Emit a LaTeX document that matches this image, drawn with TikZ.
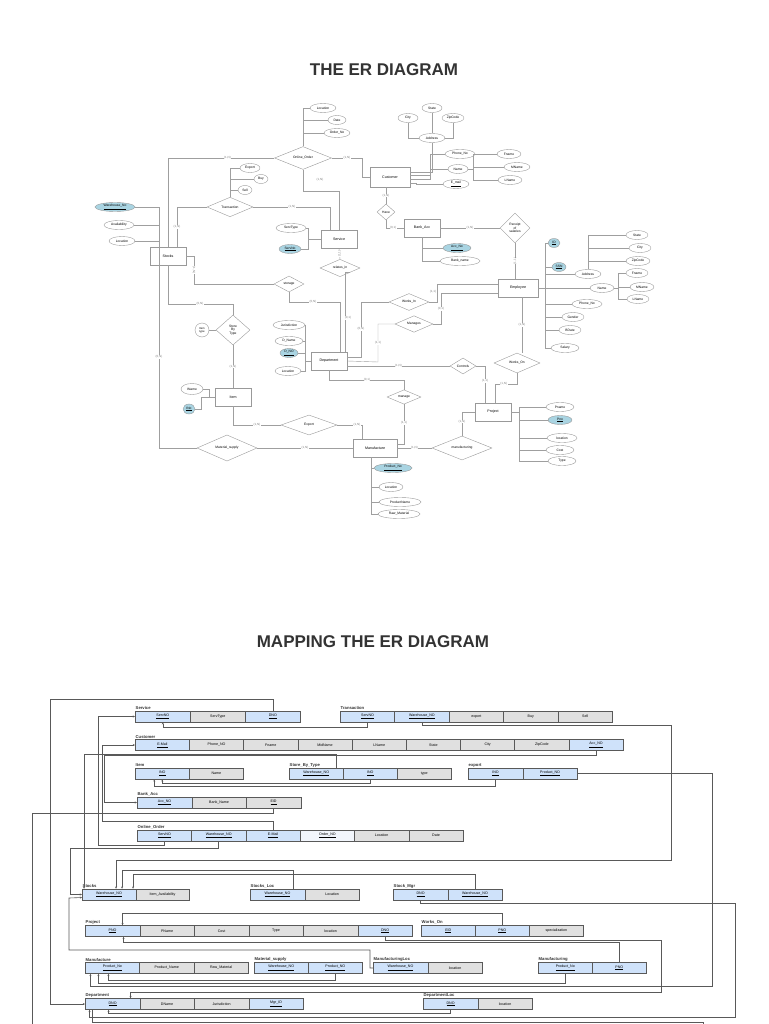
\documentclass[tikz,border=0pt]{standalone}
\usepackage{fontspec}
\setmainfont{Liberation Sans}
\usetikzlibrary{shapes.geometric,arrows.meta}
\definecolor{kb}{HTML}{CFE2FA}
\definecolor{gc}{HTML}{E0E0E0}
\definecolor{wc}{HTML}{F2F6FC}
\definecolor{ak}{HTML}{A9D4E2}
\newcommand{\trow}[5]{\foreach \t/\c [count=\i] in {#5} {\node[cell,fill=\c,minimum width=#4pt] (#1\i) at ({#2+(\i-1)*#4},#3) {\t};}}
\tikzset{
 ent/.style={draw=gray!80,minimum width=36pt,minimum height=18pt,inner sep=0,font=\fontsize{3.6}{4}\selectfont},
 rel/.style={draw=gray!80,diamond,inner sep=0,font=\fontsize{3.3}{3.6}\selectfont,align=center},
 att/.style={draw=gray!80,ellipse,minimum width=26pt,minimum height=9pt,inner sep=0.3pt,font=\fontsize{3.3}{4}\selectfont},
 key/.style={att,fill=ak},
 lbl/.style={fill=white,inner sep=0.4pt,font=\fontsize{3}{3}\selectfont,text=gray},
 er/.style={draw=gray!75,line width=0.4pt},
 cell/.style={draw=black!65,line width=0.6pt,minimum height=11pt,inner sep=0,anchor=west,font=\fontsize{3.6}{4}\selectfont},
 tlab/.style={anchor=south west,inner sep=0.5pt,font=\bfseries\fontsize{4.2}{4.5}\selectfont,text=black!80},
 arr/.style={draw=black!65,line width=0.6pt,-{Stealth[length=2.2pt,width=2pt]}},
 ln/.style={draw=black!65,line width=0.6pt}
}
\begin{document}
\begin{tikzpicture}[x=1pt,y=-1pt]
\useasboundingbox (0,0) rectangle (768,1024);
\node[font=\bfseries\fontsize{17}{18}\selectfont,text=black!80] (t1) at (384,70) {THE ER DIAGRAM};
\node[font=\bfseries\fontsize{17}{18}\selectfont,text=black!80] (t2) at (373,642) {MAPPING THE ER DIAGRAM};
% ---------- ER entities
\node[ent] (stk) at (168,256) {Stocks};
\node[ent] (srv) at (339,239) {Service};
\node[ent,minimum width=40pt,minimum height=20pt] (cus) at (390,177) {Customer};
\node[ent] (bank) at (422,228) {Bank\_Acc};
\node[ent,minimum width=40pt] (emp) at (518,288) {Employee};
\node[ent] (dep) at (329,361) {Department};
\node[ent] (item) at (233,397) {Item};
\node[ent,minimum width=44pt] (man) at (375,448) {Manufacture};
\node[ent] (prj) at (493,412) {Project};
% relationships
\node[rel,minimum width=57pt,minimum height=20pt] (oo) at (303,158) {Online\_Order};
\node[rel,minimum width=46pt,minimum height=18pt] (tr) at (230,207) {Transaction};
\node[rel,minimum width=40pt,minimum height=14pt] (rl) at (340,268) {relates\_in};
\node[rel,minimum width=30pt,minimum height=16pt] (sto) at (289,284) {storage};
\node[rel,minimum width=34pt,minimum height=30pt] (sbt) at (233,330) {Store\\By\\Type};
\node[rel,minimum width=56pt,minimum height=20pt] (exp) at (309,425) {Export};
\node[rel,minimum width=60pt,minimum height=12pt] (ms) at (227,448) {Material\_supply};
\node[rel,minimum width=34pt,minimum height=10pt] (mng) at (404,397) {manage};
\node[rel,minimum width=60pt,minimum height=12pt] (mfg) at (462,448) {manufacturing};
\node[rel,minimum width=26pt,minimum height=16pt] (ctl) at (463,366) {Controls};
\node[rel,minimum width=46pt,minimum height=20pt] (wo) at (517,363) {Works\_On};
\node[rel,minimum width=40pt,minimum height=14pt] (wi) at (409,302) {Works\_In};
\node[rel,minimum width=38pt,minimum height=16pt] (mg) at (414,324) {Manages};
\node[rel,minimum width=18pt,minimum height=16pt] (have) at (386,212) {Have};
\node[rel,minimum width=30pt,minimum height=30pt] (rcp) at (515,228) {Receipt\\of\\salaries};
% attributes
\node[att] (a1) at (323,108) {Location};
\node[att,minimum width=18pt] (a2) at (337,120) {Date};
\node[att] (a3) at (337,133) {Order\_No};
\node[att,minimum width=20pt] (e1) at (250,168) {Export};
\node[att,minimum width=14pt] (e2) at (261,179) {Buy};
\node[att,minimum width=14pt] (e3) at (245,190) {Sell};
\node[key,minimum width=40pt] (w1) at (115,207) {\underline{Warehouse\_No}};
\node[att,minimum width=30pt] (w2) at (119,225) {Availability};
\node[att] (w3) at (122,241) {Location};
\node[att,minimum width=30pt] (s1) at (291,228) {ServType};
\node[key,minimum width=22pt] (s2) at (290,249) {\underline{ServNo}};
\node[att,minimum width=20pt] (c1) at (432,108) {State};
\node[att,minimum width=20pt] (c2) at (408,118) {City};
\node[att,minimum width=22pt] (c3) at (453,118) {ZipCode};
\node[att] (c4) at (432,138) {Address};
\node[att,minimum width=30pt] (c5) at (460,154) {Phone\_No};
\node[att,minimum width=20pt] (c6) at (458,169) {Name};
\node[att,minimum width=24pt] (c7) at (509,154) {Fname};
\node[att,minimum width=26pt] (c8) at (517,167) {MName};
\node[att,minimum width=24pt] (c9) at (510,180) {LName};
\node[att] (c10) at (456,184) {\underline{E\_mail}};
\node[key,minimum width=28pt] (b1) at (457,248) {\underline{Acc\_No}};
\node[att,minimum width=40pt] (b2) at (460,261) {Bank\_name};
\node[key,minimum width=12pt] (em1) at (554,243) {\underline{ID}};
\node[key,minimum width=14pt] (em2) at (559,267) {\underline{SSN}};
\node[att] (em3) at (588,274) {Address};
\node[att,minimum width=24pt] (em4) at (602,288) {Name};
\node[att,minimum width=22pt] (em5) at (637,235) {State};
\node[att,minimum width=22pt] (em6) at (640,248) {City};
\node[att,minimum width=24pt] (em7) at (638,261) {ZipCode};
\node[att,minimum width=22pt] (em8) at (637,273) {Fname};
\node[att,minimum width=24pt] (em9) at (642,287) {MName};
\node[att,minimum width=22pt] (em10) at (638,299) {LName};
\node[att,minimum width=30pt] (em11) at (587,304) {Phone\_No};
\node[att,minimum width=22pt] (em12) at (573,317) {Gender};
\node[att,minimum width=22pt] (em13) at (570,330) {BDate};
\node[att,minimum width=28pt] (em14) at (565,348) {Salary};
\node[att,minimum width=28pt] (p1) at (560,407) {Pname};
\node[key,minimum width=24pt] (p2) at (560,420) {\underline{Pno}};
\node[att,minimum width=30pt] (p3) at (562,438) {location};
\node[att,minimum width=28pt] (p4) at (560,450) {Cost};
\node[att,minimum width=28pt] (p5) at (562,461) {Type};
\node[key,minimum width=38pt] (m1) at (393,468) {\underline{Product\_No}};
\node[att,minimum width=24pt] (m2) at (391,487) {Location};
\node[att,minimum width=42pt] (m3) at (400,502) {ProductName};
\node[att,minimum width=42pt] (m4) at (399,514) {Raw\_Material};
\node[att,circle,minimum size=14pt,align=center,font=\fontsize{2.8}{3}\selectfont] (i0) at (202,330) {Item\\type};
\node[att,minimum width=22pt,minimum height=11pt] (i1) at (192,389) {IName};
\node[key,minimum width=12pt,minimum height=10pt] (i2) at (189,409) {\underline{INo}};
\node[att,minimum width=32pt] (d1) at (289,325) {Jurisdiction};
\node[att,minimum width=28pt] (d2) at (289,341) {D\_Name};
\node[key,minimum width=18pt] (d3) at (289,353) {\underline{D\_NO}};
\node[att,minimum width=26pt] (d4) at (288,371) {Location};
% ER connectors
\draw[er] (oo.north) |- (a1.west); \draw[er] (oo.north) |- (a2.west); \draw[er] (oo.north) |- (a3.west);
\draw[er] (stk.north) |- node[lbl,pos=0.78]{(1,N)} (oo.west);
\draw[er] (oo.east) -- node[lbl]{(1,N)} (362,158) |- (cus.west);
\draw[er] (oo.south) -- ++(0,22) -| (srv.north);
\node[lbl] (l1) at (320,180) {(1,N)};
\draw[er] ([xshift=9pt]stk.north) |- (tr.west);
\node[lbl] (l2) at (177,227) {(1,N)};
\draw[er] (tr.east) -| ([xshift=-9pt]srv.north);
\node[lbl] (l3) at (292,207) {(1,N)};
\draw[er] (tr.north) |- (e1.west); \draw[er] (tr.north) |- (e2.west); \draw[er] (tr.north) |- (e3.west);
\draw[er] (w1.east) -| (159,448) -- (ms.west);
\draw[er] (w2.east) -- (w2.east -| 159,0); \draw[er] (w3.east) -- (w3.east -| 159,0);
\node[lbl] (l4) at (159,357) {(0,N)};
\draw[er] (ms.east) -- node[lbl]{(1,N)} (man.west);
\draw[er] (stk.south) -- ++(0,39) -| (sbt.north);
\node[lbl] (l5) at (200,304) {(0,N)};
\draw[er] (stk.east) -- (194,256) |- (sto.west);
\node[lbl,rotate=-90] (l6) at (194,270) {(1,N)};
\draw[er] (sto.south) -- ++(0,10) -| ([xshift=11pt]dep.north);
\node[lbl] (l7) at (313,302) {(0,N)};
\draw[er] (srv.south) -- node[lbl,rotate=90]{(1,1)} (rl.north);
\draw[er] (rl.south east) -- ++(0,0) -| ([xshift=16pt]dep.north);
\node[lbl] (l8) at (348,318) {(0,1)};
\draw[er] (s1.east) -| (308,239) -- (srv.west); \draw[er] (s2.east) -| (308,239);
\draw[er] (have.north) -- node[lbl]{(1,N)} (have.north |- cus.south);
\draw[er] (have.south) |- node[lbl,pos=0.7]{(0,1)} (bank.west);
\draw[er] (bank.east) -- node[lbl]{(1,N)} (rcp.west);
\draw[er] (rcp.south) -- node[lbl,rotate=90]{(1,1)} (rcp.south |- emp.north);
\draw[er] (bank.south) |- (b1.west); \draw[er] (bank.south) |- (b2.west);
\draw[er] (c2.south) |- (c4.west); \draw[er] (c1.south) -- (c4.north); \draw[er] (c3.south) |- (c4.east);
\draw[er] ([yshift=5pt]cus.east) -| (c4.south);
\draw[er] ([yshift=2pt]cus.east) -- ++(20,0) |- (c5.west);
\draw[er] ([yshift=-2pt]cus.east) -- ++(20,0) |- (c6.west);
\draw[er] ([yshift=-6pt]cus.east) -- ++(6,0) |- (c10.west);
\draw[er] (c6.east) -- ++(5,0) |- (c7.west); \draw[er] (c6.east) -- ++(5,0) |- (c8.west); \draw[er] (c6.east) -- ++(5,0) |- (c9.west);
\coordinate (ev) at (545,288);
\draw[er] (ev |- em1.west) -- (ev |- em14.west);
\foreach \k in {1,2,11,12,13,14} {\draw[er] (ev |- em\k.west) -- (em\k.west);}
\draw[er] (emp.east) -- (em4.west);
\draw[er] (ev) -- (ev |- em3.west) -- (em3.west);
\draw[er] (em3.north) |- (em5.west); \draw[er] (em3.north) |- (em6.west); \draw[er] (em3.north) |- (em7.west);
\draw[er] (em4.east) -- ++(4,0) |- (em8.west); \draw[er] (em4.east) -- ++(4,0) |- (em9.west); \draw[er] (em4.east) -- ++(4,0) |- (em10.west);
\draw[er] ([xshift=4pt]emp.south) -- node[lbl]{(1,N)} ([xshift=4pt]emp.south |- wo.north);
\draw[er] (wo.south) -- ++(0,11) -| node[lbl,pos=0.3]{(1,N)} ([xshift=2pt]prj.north);
\draw[er] (dep.east |- ctl.west) -- node[lbl]{(1,N)} (ctl.west);
\draw[er] (ctl.east) -| node[lbl,pos=0.7]{(1,1)} ([xshift=-8pt]prj.north);
\draw[er] (wi.east) -- ++(8,0) |- ([yshift=4pt]emp.west);
\node[lbl] (l9) at (433,292) {(1,1)};
\draw[er] (wi.west) -- (361,302) -- (361,357) -- ([yshift=4pt]dep.east);
\node[lbl] (l10) at (361,329) {(0,N)};
\draw[er] (mg.west) -- (378,324) -- (378,362) -- (dep.east);
\node[lbl] (l11) at (378,343) {(1,1)};
\draw[er] (mg.east) -- (441,324) |- ([yshift=-5pt]emp.west);
\node[lbl] (l12) at (441,309) {(0,1)};
\draw[er] (dep.south) -- ++(0,10) -| (mng.north);
\node[lbl] (l13) at (367,380) {(0,1)};
\draw[er] (mng.south) |- ([yshift=4pt]man.east);
\node[lbl] (l14) at (404,423) {(1,1)};
\draw[er] (item.south) |- node[lbl,pos=0.75]{(1,N)} (exp.west);
\draw[er] (exp.east) -| node[lbl,pos=0.4]{(1,N)} ([xshift=-13pt]man.north);
\draw[er] (sbt.south) -- node[lbl]{(1,N)} (item.north);
\draw[er] (i0.east) -- (sbt.west);
\draw[er] (i1.east) -- ++(6,0) |- (item.west); \draw[er] (i2.east) -- ++(6,0) |- (item.west);
\coordinate (dv) at (305,361);
\draw[er] (d1.east) -| (dv) -- (dep.west); \draw[er] (d2.east) -| (dv); \draw[er] (d3.east) -| (dv); \draw[er] (d4.east) -| (dv);
\draw[er] ([xshift=-4pt]man.south) |- (m1.west); \draw[er] ([xshift=-4pt]man.south) |- (m2.west);
\draw[er] ([xshift=-4pt]man.south) |- (m3.west); \draw[er] ([xshift=-4pt]man.south) |- (m4.west);
\draw[er] (man.east) -- node[lbl]{(1,N)} (mfg.west);
\draw[er] (mfg.north) |- node[lbl,pos=0.3]{(1,N)} (prj.west);
\foreach \k in {1,...,5} {\draw[er] (prj.east) -- ++(8,0) |- (p\k.west);}
% ---------- mapping tables
\trow{Tsv}{135}{716.5}{55}{\underline{ServNO}/kb,ServType/gc,\underline{DNO}/kb}
\trow{Ttr}{340}{716.5}{54.4}{\underline{ServNO}/kb,\underline{Warehouse\_NO}/kb,export/gc,Buy/gc,Sell/gc}
\trow{Tcu}{135}{745}{54.2}{\underline{E-Mail}/kb,Phone\_NO/gc,Fname/gc,MidName/gc,LName/gc,State/gc,City/gc,ZipCode/gc,\underline{Acc\_NO}/kb}
\trow{Tit}{135}{773.5}{54}{\underline{INO}/kb,Name/gc}
\trow{Tsb}{289}{773.5}{54}{\underline{Warehouse\_NO}/kb,\underline{INO}/kb,type/gc}
\trow{Tex}{468}{773.5}{54.5}{\underline{INO}/kb,\underline{Product\_NO}/kb}
\trow{Tba}{137}{802.5}{54.5}{\underline{Acc\_NO}/kb,Bank\_Name/gc,\underline{EID}/gc}
\trow{Too}{137}{835.5}{54.3}{\underline{ServNO}/kb,\underline{Warehouse\_NO}/kb,\underline{E-Mail}/kb,\underline{Order\_NO}/wc,Location/gc,Date/gc}
\trow{Tst}{82}{894.5}{53.5}{\underline{Warehouse\_NO}/kb,Item\_Availability/gc}
\trow{Tsl}{250}{894.5}{54.5}{\underline{Warehouse\_NO}/kb,Location/gc}
\trow{Tsm}{393}{894.5}{54.5}{\underline{DNO}/kb,\underline{Warehouse\_NO}/kb}
\trow{Tpr}{85}{931}{54.5}{\underline{PNO}/kb,PName/gc,Cost/gc,Type/gc,location/gc,\underline{DNO}/kb}
\trow{Two}{421}{931}{54}{\underline{EID}/kb,\underline{PNO}/kb,specialization/gc}
\trow{Tma}{85}{968}{54.3}{\underline{Product\_No}/kb,Product\_Name/gc,Raw\_Material/gc}
\trow{Tms}{254}{968}{54}{\underline{Warehouse\_NO}/kb,\underline{Product\_NO}/kb}
\trow{Tml}{373}{968}{54.5}{\underline{Warehouse\_NO}/kb,location/gc}
\trow{Tmf}{538}{968}{54}{\underline{Product\_No}/kb,\underline{PNO}/kb}
\trow{Tde}{85}{1004}{54.5}{\underline{DNO}/kb,DName/gc,Jurisdiction/gc,\underline{Mgr\_ID}/kb}
\trow{Tdl}{423}{1004}{54.5}{\underline{DNO}/kb,location/gc}
\node[tlab] (L1) at (Tsv1.north west) {Service};
\node[tlab] (L2) at (Ttr1.north west) {Transaction};
\node[tlab] (L3) at (Tcu1.north west) {Customer};
\node[tlab] (L4) at (Tit1.north west) {Item};
\node[tlab] (L5) at (Tsb1.north west) {Store\_By\_Type};
\node[tlab] (L6) at (Tex1.north west) {export};
\node[tlab] (L7) at (Tba1.north west) {Bank\_Acc};
\node[tlab] (L8) at (Too1.north west) {Online\_Order};
\node[tlab] (L9) at (Tst1.north west) {Stocks};
\node[tlab] (L10) at (Tsl1.north west) {Stocks\_Loc};
\node[tlab] (L11) at (Tsm1.north west) {Stock\_Mgr};
\node[tlab] (L12) at (Tpr1.north west) {Project};
\node[tlab] (L13) at (Two1.north west) {Works\_On};
\node[tlab] (L14) at (Tma1.north west) {Manufacture};
\node[tlab] (L15) at (Tms1.north west) {Material\_supply};
\node[tlab] (L16) at (Tml1.north west) {ManufacturingLoc};
\node[tlab] (L17) at (Tmf1.north west) {Manufacturing};
\node[tlab] (L18) at (Tde1.north west) {Department};
\node[tlab] (L19) at (Tdl1.north west) {DepartmentLoc};
% mapping connectors
\draw[arr] (Tsv3.north) |- (50,699) |- (Tde1.west);
\draw[arr] (Ttr1.south) -- ++(0,5) -| (Tsv1.south);
\draw[arr] (Ttr2.south) -- ++(0,3) -| (671,860) -| ([xshift=7pt]Tst1.north);
\draw[arr] (Tcu9.south) -- ++(0,4) -| (104,802.5) -- (Tba1.west);
\draw[arr] (Too1.south) -- ++(0,4) -| (98,716.5) -- (Tsv1.west);
\draw[arr] (Too3.north) -- ++(0,-8) -| (102,745) -- (Tcu1.west);
\draw[arr] (Too2.south) -- ++(0,7) -| (70,894.5) -- (Tst1.west);
\draw[arr] (Tsb2.south) -- ++(0,4) -| (Tit1.south);
\draw[arr] (Tex1.south) -- ++(0,7) -| ([xshift=-8pt]Tit1.south);
\draw[arr] ([xshift=20pt]Tsb1.north) -- ++(0,-13) -| ([xshift=-25pt]Tst1.north);
\draw[ln] (Tba3.south) -- ++(0,5) -| (32,1024);
\draw[arr] (Tex2.east) -| (712,986) -| ([xshift=-22pt]Tma1.south);
\draw[arr] (Tms2.south) -- ++(0,6) -| ([xshift=-4pt]Tma1.south);
\draw[arr] ([xshift=16pt]Tsl1.north) -- ++(0,-18) -| ([xshift=13pt]Tst1.north);
\draw[arr] (Tsm2.north) -- ++(0,-14) -| ([xshift=24pt]Tst1.north);
\draw[arr] (Tml1.west) -| (370,950) -| (69,898) -- ([yshift=-3pt]Tst1.west);
\draw[arr] (Tpr6.south) -- ++(0,3) -| (661,992) -| ([xshift=18pt]Tde1.north);
\draw[arr] (Two2.north) -- ++(0,-12) -| ([xshift=10pt]Tpr1.north);
\draw[arr] (Tmf2.north) -- ++(0,-20) -| ([xshift=11pt]Tpr1.south);
\draw[arr] (Tmf1.south) -- ++(0,9) -| ([xshift=-14pt]Tma1.south);
\draw[arr] (Tsm1.south) -- ++(0,3) -| (735,1017) -| ([xshift=-23pt]Tde1.south);
\draw[arr] (Tdl1.south) -- ++(0,3) -| ([xshift=-4pt]Tde1.south);
\draw[ln] ([xshift=-20pt]Tde1.south) -- ++(0,12) -| (703,1024);
\end{tikzpicture}
\end{document}
